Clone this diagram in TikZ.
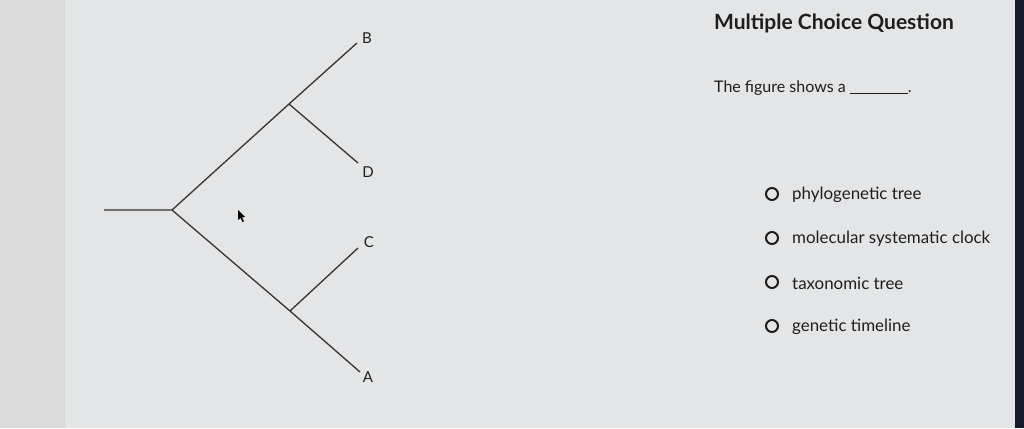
\documentclass[tikz,border=0pt]{standalone}
\usepackage{fontspec}
\setmainfont{Lato}
\definecolor{bgmain}{HTML}{E4E5E6}
\definecolor{bgleft}{HTML}{DADADA}
\definecolor{bgright}{HTML}{151A2C}
\definecolor{treecol}{HTML}{3A3232}
\definecolor{txt}{HTML}{1E1E1E}
\tikzset{
  branch/.style={draw=treecol, line width=1.3pt},
  leaflabel/.style={font=\fontsize{15}{15}\selectfont, text=txt, inner sep=0pt},
  optcircle/.style={circle, draw=txt, line width=2pt, minimum size=12pt, inner sep=0pt},
  opttext/.style={font=\fontsize{16.9}{16.9}\selectfont, text=txt, anchor=west, inner sep=0pt},
}
\begin{document}
\begin{tikzpicture}[x=1pt,y=-1pt]
\useasboundingbox (0,0) rectangle (1024,428);
\fill[bgmain] (0,0) rectangle (1024,428);
\fill[bgleft] (0,0) rectangle (65,428);
\fill[bgright] (1015,0) rectangle (1024,428);
% tree
\coordinate (root) at (104,210);
\coordinate (n0) at (172,210);
\coordinate (n1) at (289,104);
\coordinate (n2) at (290,311);
\coordinate (b) at (357,43);
\coordinate (d) at (358,163);
\coordinate (c) at (358,248);
\coordinate (a) at (360,372);
\draw[branch] (root) -- (n0) -- (n1) -- (b);
\draw[branch] (n1) -- (d);
\draw[branch] (n0) -- (n2) -- (a);
\draw[branch] (n2) -- (c);
\node[leaflabel] (lb) at (367,38) {B};
\node[leaflabel] (ld) at (368,172) {D};
\node[leaflabel] (lc) at (369,242) {C};
\node[leaflabel] (la) at (368,377) {A};
% cursor
\fill[black] (238,210) -- (238,220) -- (240.5,218) -- (242.5,222) -- (244,221.3) -- (242,217.5) -- (245,217) -- cycle;
% question
\node[font=\bfseries\fontsize{21}{21}\selectfont, text=txt, anchor=west, inner sep=0pt] (title) at (714,23) {Multiple Choice Question};
\node[opttext, font=\fontsize{16}{16}\selectfont] (q) at (714,88) {The figure shows a \rule[-1pt]{58pt}{0.8pt}.};
\node[optcircle] (c1) at (772,194) {};
\node[optcircle] (c2) at (772,238) {};
\node[optcircle] (c3) at (772,282) {};
\node[optcircle] (c4) at (772,326) {};
\node[opttext] (t1) at (792,195) {phylogenetic tree};
\node[opttext] (t2) at (792,239) {molecular systematic clock};
\node[opttext] (t3) at (792,283) {taxonomic tree};
\node[opttext] (t4) at (792,327) {genetic timeline};
\end{tikzpicture}
\end{document}
